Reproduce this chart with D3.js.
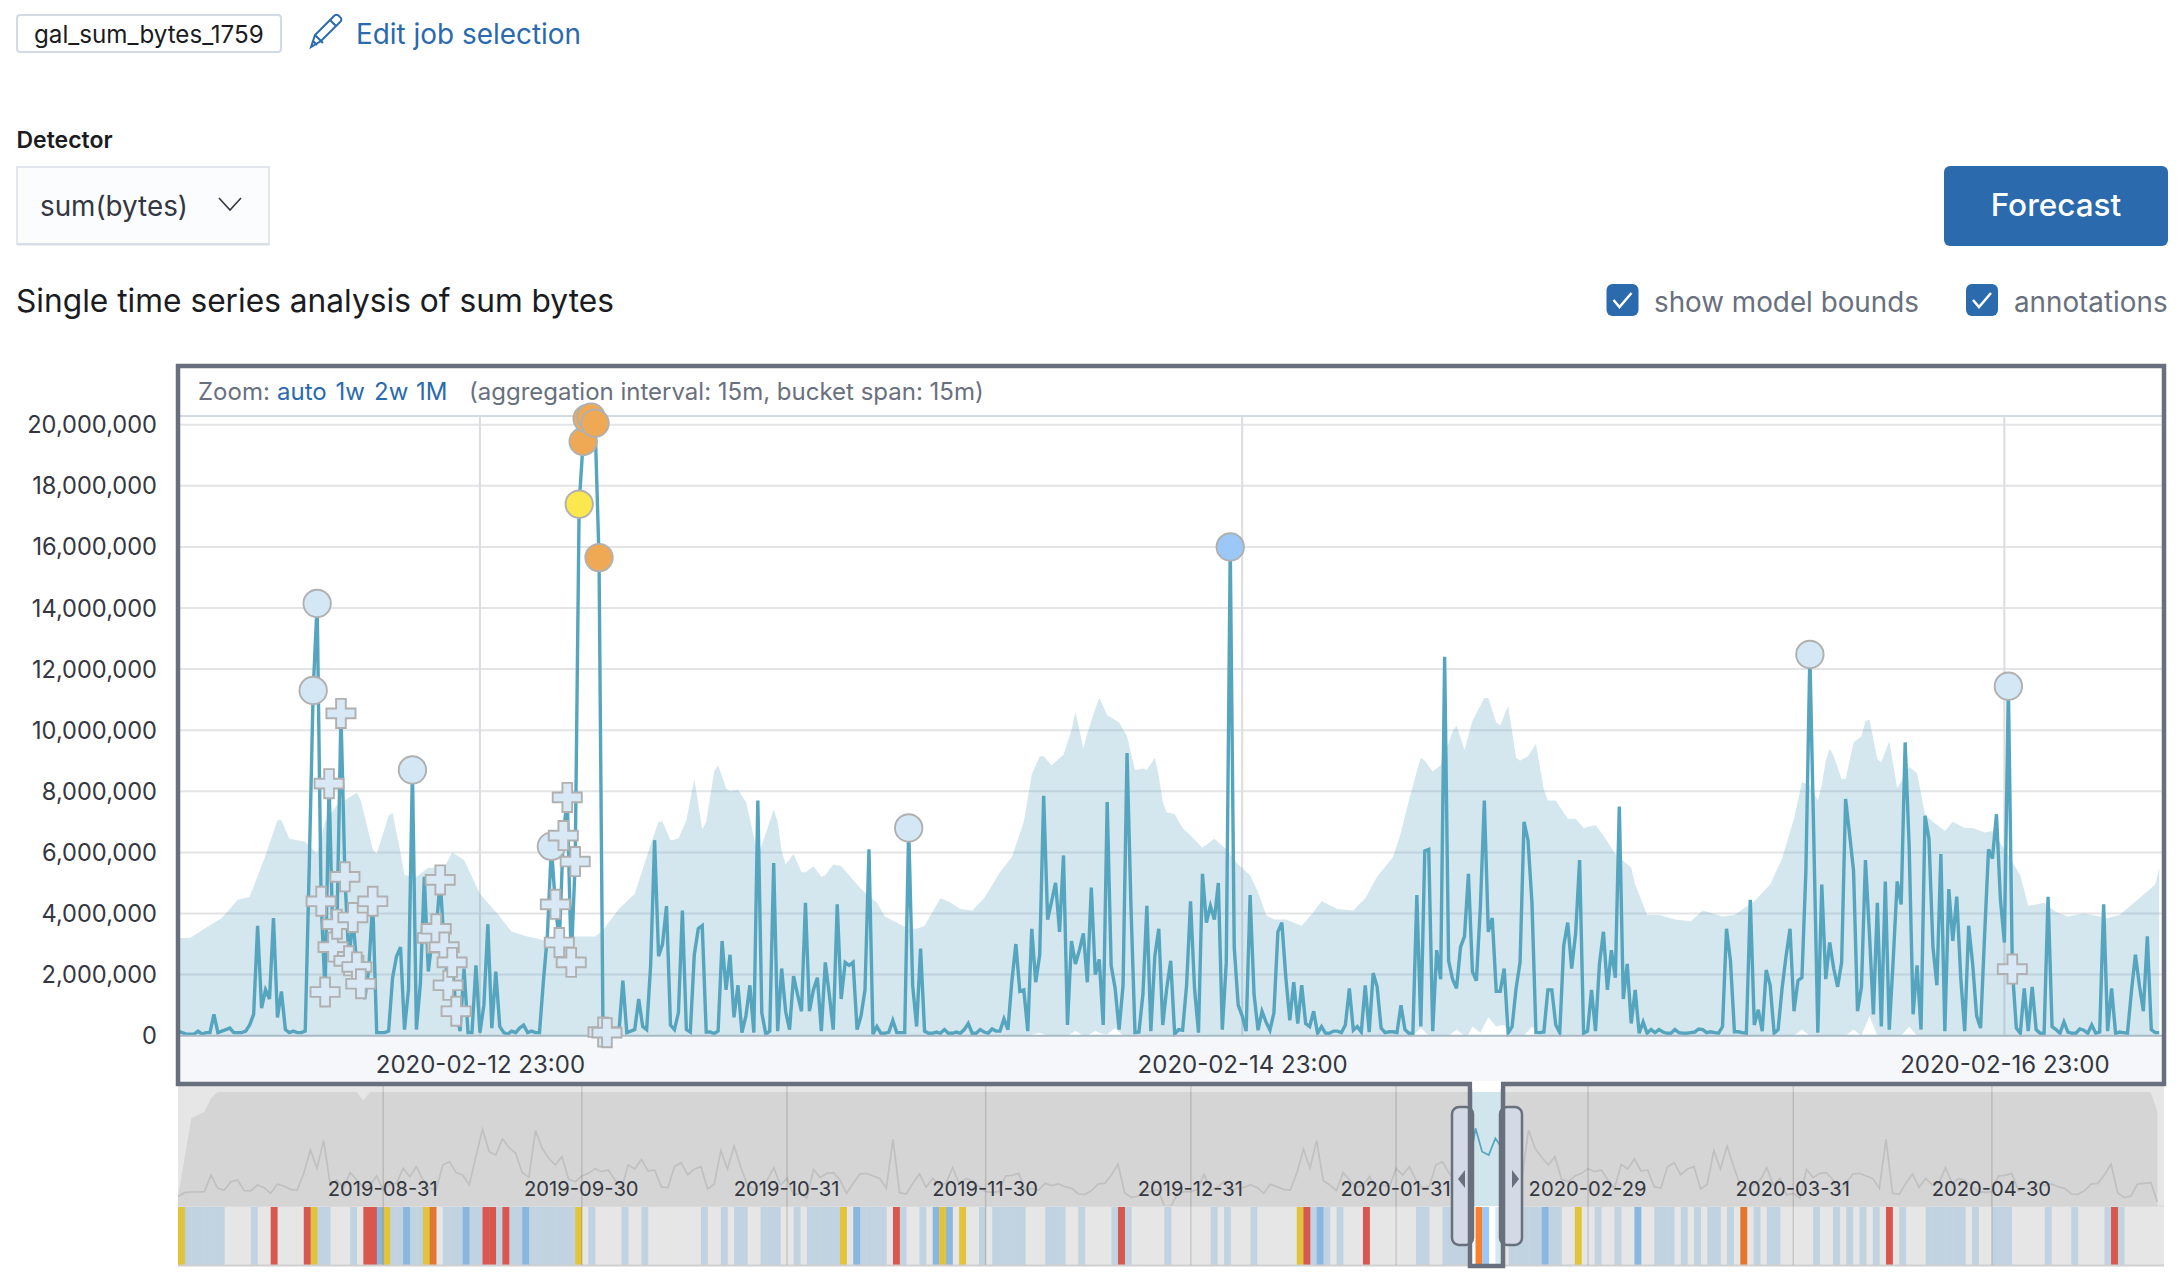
<!DOCTYPE html>
<html><head><meta charset="utf-8">
<script src="https://cdn.jsdelivr.net/npm/d3@7"></script>
<style>
html,body{margin:0;padding:0;background:#fff}
svg{display:block;font-family:Inter,"Noto Sans",sans-serif}
.grid line{stroke:#e3e4e6;stroke-width:2}
</style></head><body><svg id="c" width="2182" height="1282"></svg>
<script>
// ---------- data: bucket values in millions of bytes, 15 minute buckets ----------
const mainValues = [
.15,.1,.05,.05,.05,.15,.05,.1,.1,.7,
.1,.15,.2,.25,.1,.1,.1,.15,.35,.7,
3.6,.9,1.5,1.2,3.85,.6,1.45,.2,.1,.15,
.1,.1,.15,5.5,11.3,14.15,4.4,1.43,8.25,2.9,
3.65,10.55,5.2,2.45,3.87,2.25,1.7,1.2,2.2,4.4,
.1,.1,.1,.15,1.9,2.6,2.9,.2,1.5,8.7,
.2,1.7,5.2,2.1,3.2,3.5,5.1,2.9,1.65,2.4,
.8,.15,2.2,.1,.1,2.3,.1,1,3.65,.25,
2.1,.3,.1,.05,.15,.1,.25,.35,.1,.15,
.1,.1,1.8,3.3,6.2,4.3,3.05,6.55,7.8,2.4,
5.7,17.4,19.45,20.2,20.25,20.05,15.65,.12,.1,.1,
.2,.1,1.8,.1,.15,.2,1.2,.3,.2,2.3,
6.4,2.6,3,4.24,.35,.2,.75,4.1,.2,.12,
2.65,3.5,3.6,.12,.12,.07,.15,3.1,1.5,2.65,
.6,1.65,.1,.65,1.65,.1,7.7,.75,.05,.15,
5.65,.15,2.2,.8,.2,1.95,1.35,.8,4.35,.8,
1.5,1.9,.15,2.4,1.35,.2,4.3,1.2,2.4,2.3,
2.4,.2,.65,1.5,6.1,.05,.3,.08,.08,.12,
.5,.1,.1,.1,6.8,1.65,.3,2.85,.15,.08,
.08,.12,.08,.2,.08,.08,.12,.08,.2,.4,
.08,.08,.2,.12,.08,.22,.15,.15,.55,.2,
1.8,3,1.45,1.5,.15,3.5,1.75,2.65,7.85,3.8,
4.4,5,3.4,5.9,.35,3.1,2.35,2.8,3.35,1.75,
4.85,2,2.5,.35,7.65,2.3,1.55,.2,1.65,9.25,
4.2,.1,.12,1.35,4.25,.15,2.6,3.5,.35,1.55,
2.45,.05,.2,.18,1.65,4.4,1.55,.1,5.3,3.7,
4.25,3.8,5,.2,2.4,16,2.9,1,.65,.15,
4.6,1.35,.18,.8,.45,.18,.75,3.4,3.7,1.9,
.5,1.75,.4,1.65,.4,.3,.8,.08,.3,.08,
.08,.15,.15,.1,.35,1.55,.18,.3,.12,1.65,
.12,2.05,1.6,.25,.1,.13,.13,.1,1,.2,
.08,.08,4.6,.3,6.05,6.1,.15,2.8,1.85,12.4,
2.45,1.85,1.55,2.9,3.25,5.3,2.1,1.8,4.2,7.7,
3.4,3.85,1.45,1.45,2.2,.08,.3,1.55,2.4,7,
6.4,4.35,.1,.1,.12,1.5,1.5,.35,.1,2.95,
3.7,2.2,3.35,5.75,.08,.15,1.5,.15,2.35,3.4,
1.5,2.8,1.9,7.5,1.2,2.35,.4,1.5,.08,.45,
.08,.2,.1,.2,.12,.08,.08,.2,.1,.08,
.08,.1,.12,.22,.2,.1,.13,.1,.08,.3,
3.5,2.45,.13,.13,.1,.08,4.45,.35,.85,.15,
2.15,1.65,.08,.2,1.55,2.6,3.5,.8,1.8,1.9,
5.4,12.48,6.4,.1,4.95,1.85,3.05,2.2,1.6,2.4,
7.75,6.6,5.4,.8,1.6,5.75,3.35,.7,4.35,.3,
5.05,.2,2.5,5.05,4.3,9.6,6.25,.7,2.3,.2,
7.2,6.45,2.9,1.65,5.95,.15,4.8,3.1,4.55,1.9,
.15,3.6,2.35,.65,.25,3.25,6.1,5.8,7.25,4.45,
3.05,11.44,2.18,.25,.08,1.55,.15,1.6,.2,.08,
.08,4.55,.3,.2,.08,.45,.12,.08,.08,.22,
.18,.08,.35,.08,.12,4.3,.15,1.55,.08,.12,
.1,.08,1.45,2.65,1.65,.8,3.25,.2,.1,.1];

// model upper bound, as vertices: bucket index, value
const upperIndex = [0,3,6,11,15,18,22,25,26,28,32,35,37,40,45,46,49,50,53,54,56,57,60,63,67,69,72,76,79,81,84,88,93,99,105,107,111,115,119,121,122,124,126,128,130,132,133,135,136,138,139,141,143,144,146,147,150,151,152,153,155,157,158,160,162,163,165,167,172,176,178,184,186,188,192,194,197,200,203,207,210,213,215,217,218,220,223,225,226,228,229,231,232,234,237,239,241,243,244,246,247,248,249,250,251,253,255,258,261,264,267,270,272,274,276,279,283,286,288,292,296,299,302,306,308,310,312,313,314,316,318,321,322,324,326,329,330,332,333,335,337,338,340,342,344,345,347,350,352,354,357,359,362,366,367,370,373,377,381,384,389,392,397,401,404,407,409,411,413,414,415,416,417,419,420,422,424,425,426,428,429,431,433,436,438,440,442,445,447,450,452,455,457,461,464,466,470,473,476,480,486,489,494,498,499];
const upperValue = [3.2,3.2,3.45,3.85,4.45,4.55,5.9,7.05,7.05,6.45,6.35,5.95,7,7.55,7.95,7.7,6.1,5.95,7.2,7.3,6,5.25,5.2,5.5,5.5,6,5.75,4.65,4.2,3.9,3.4,3.25,3.1,3.25,3.25,3.45,4.15,4.65,6.25,7,7,6.4,6.45,7.05,8.4,6.75,7,8.65,8.85,8.1,8,8.05,7.65,7.1,5.9,6.25,7.4,7,6.05,5.6,5.95,5.35,5.35,5.55,5.2,5.25,5.6,5.55,4.8,4.35,3.9,3.5,3.5,3.6,4.5,4.4,4.15,4.1,4.5,5.35,5.85,7,8.55,9.15,9.15,8.85,9.2,10,10.6,9.4,9.9,10.7,11.05,10.5,10.25,9.8,8.7,8.75,8.7,9.1,8.5,7.65,7.3,7.3,7.25,6.8,6.55,6.15,6.45,6.1,5.6,5.25,4.7,3.95,3.8,3.8,3.6,4.05,4.4,4.15,4.1,4.5,5.2,5.85,6.65,7.7,8.65,9.1,9,8.65,8.85,9.95,10.15,9.35,10.3,11.05,11.05,10.25,10.15,10.8,9.1,9,9.15,9.55,8.05,7.7,7.7,7.1,7.1,6.8,6.9,6.55,5.95,5.5,4.95,3.95,3.95,3.8,3.75,4.1,3.9,3.95,4.4,4.95,5.8,7.1,8.3,8.2,7.7,8.2,9,9.4,9.15,8.4,8.4,9.6,9.8,10.3,10.35,9.05,8.95,9.65,8.1,8.8,8.6,7.25,7,6.7,7,6.8,6.8,6.65,6.7,5.9,5.25,4.25,4.35,4.05,3.9,4,3.85,3.95,4.5,4.95,5.5];
// model lower bound humps
const lowerIndex = [214,217,219,224,226,228,229,231,233,234,236,238,311,313,315,320,322,324,325,326,328,330,332,334,336,339,341,343,407,409,411,420,422,424,426,428,434,436,438];
const lowerValue = [0,.1,0,0,.15,0,0,.15,.05,.05,.25,0,0,.25,0,0,.2,0,.05,.3,.1,.6,.3,.35,0,0,.3,0,0,.2,0,0,.2,0,.65,0,0,.3,0];

const lowCircles = [34,35,59,94,184,411,461];
const minorCircles = [265];
const warningCircles = [101];
const majorCircles = [102,103,104,105,106];
const multiBucket = [36,37,38,39,40,41,42,43,44,45,46,49,64,65,66,67,68,69,70,95,96,97,98,99,100,107,108,462];

const yTicks = [0,2,4,6,8,10,12,14,16,18,20];
const mainTickDates = ["2020-02-12T23:00:00Z","2020-02-14T23:00:00Z","2020-02-16T23:00:00Z"];
const contextTickDates = ["2019-08-31","2019-09-30","2019-10-31","2019-11-30","2019-12-31","2020-01-31","2020-02-29","2020-03-31","2020-04-30"];

// overview, one value per day
const contextValues = [
2.8,4,4.2,4.2,4.3,9.3,5.3,4.8,7.3,7.8,4.6,4.5,6.3,5.5,3.8,6.5,6,5,4.8,9.8,
16.8,11.3,19.6,6.3,7.8,5.3,10,7.8,5.5,6.3,9,4.8,6.5,6.8,11.3,8.8,11.8,7.8,5.3,4.8,
12.3,13.3,10,9.3,6.3,14.8,23,16.3,15.3,20.1,17.6,15.8,10,8.6,22.6,17.3,14.3,12.3,14.8,8.1,
7.3,9,9.8,11.2,10.3,10.8,7.8,5.3,12.3,11.1,14,10.5,10.8,5.8,5.4,11.8,13,9.3,11.1,11.8,
5.1,6.5,16.6,11.1,18,11.8,6.3,4.8,6.3,7.8,11.5,6.3,8.3,3.3,3.8,2.3,11,8.5,9.8,10,
7.8,3.8,6.8,9.6,9.8,9,8.3,5.3,20,4,3.6,6.8,9.6,5.6,8.3,6.3,6.8,11.5,6.8,8.3,
7.6,5.8,4.3,4.1,4.3,9,9.2,9.8,4.6,5.3,4.8,6.8,6.1,6.6,5.8,5.3,3.6,3.5,4.6,6.6,
6.8,9.3,12.6,4,2.5,3,4.3,4.3,5,0,0,3.6,4.3,4.3,5,9.5,4.8,5.6,7.3,4.6,
5.3,5.6,6.3,5.6,3.8,6.5,5.8,5,4.8,9.8,17,11.3,19.6,7.6,6.3,4.6,10,7.8,5.6,6.3,
8.8,4.8,6.3,5.8,11.3,9.3,11.8,7.8,5.3,5.8,12.3,13.3,9.8,8,5.5,12,23.3,16.3,15.3,20.3,
17.3,15.8,10,8,22.8,17.3,14.6,12.3,14.8,8,7.3,9,9.8,11.2,10.3,10.8,7.8,5.3,12.5,11.1,
14.1,10.5,10.8,5.8,5.4,11.8,13,9.3,11.1,11.8,5.1,6.5,16.6,11.1,18,11.8,6.3,4.8,6.3,7.8,
11.5,6.3,8.3,3.3,3.8,2.3,11,8.5,9.8,10,7.8,3.8,6.8,9.6,9.8,9,8.3,5.3,20,3.8,
3.5,6.8,9.6,5.6,8.3,6.3,6.8,11.5,6.8,8.3,7.6,5.8,4.3,4.1,4.3,9,9.2,9.8,4.6,5.3,
4.8,6.8,6.1,6.6,5.8,5.3,3.6,3.5,4.6,6.6,6.8,9.3,12.6,4,2.5,3,6.6,6.8,7,1.3];
const contextUpperDay = [0,2,3,4,5,6,27,28,29,298,299];
const contextUpperValue = [2.8,26.3,27.3,28.3,32.3,34.2,34.2,31.6,34.2,34.2,28.3];

// swimlane, day positions by severity
const lowDays = [1,2,3,4,5,6,11,21,22,26,32,33,35,36,40,41,42,44,45,48,50,51,53,54,55,56,57,58,59,62,67,70,79,82,84,85,88,89,90,93,95,96,97,98,99,103,104,105,106,109,112,121,123,124,125,126,127,131,132,133,136,141,143,149,156,158,162,171,173,175,187,188,191,192,193,194,201,202,203,204,205,207,208,214,217,223,224,225,227,229,231,232,234,238,240,241,247,250,252,254,256,260,264,265,266,267,268,269,271,274,275,276,282,286,291,293];
const minorDays = [30,34,43,52,102,114,116,172,206,220];
const warningDays = [0,20,31,37,60,100,115,118,169,211];
const majorDays = [38,236];
const criticalDays = [14,19,28,29,46,47,49,108,142,170,179,258,292];
const selectedMajor = [196], selectedMinor = [197], selectedLow = [199];

// ---------- layout ----------
const svg = d3.select("#c");
const ink = "#343741", subdued = "#69707d", link = "#2a6aad", border = "#69707d";
const L = 178.2, R = 2163.2, Y0 = 1035.7, Y20 = 424.7;
const T = v => new Date(Date.UTC(2020,1,12,4,0) + v*9e5);
const x = d3.scaleUtc().domain([T(0),T(500)]).range([L,R]);
const y = d3.scaleLinear().domain([0,20]).range([Y0,Y20]);
const text = (s,px,py,size,fill,o={}) => svg.append("text").attr("x",px).attr("y",py).attr("dy",".36em")
  .attr("font-size",size).attr("fill",fill).attr("font-weight",o.w||400).attr("text-anchor",o.a||"start").text(s);

// header controls
svg.append("rect").attr("x",17).attr("y",15).attr("width",264).attr("height",37).attr("rx",3).attr("fill","#fff").attr("stroke","#d3dae6").attr("stroke-width",2);
text("gal_sum_bytes_1759",34,34,24.2,"#1a1c21");
svg.append("path").attr("d","M311 47l4-12 19-19a3 3 0 0 1 5 0l1 1a3 3 0 0 1 0 5l-19 19zM315 35l8 8M330 20l6 6M313 41l4 4")
  .attr("fill","none").attr("stroke",link).attr("stroke-width",2);
text("Edit job selection",356,34,27.9,link);
text("Detector",16.5,140,23,"#1a1c21",{w:600});
svg.append("rect").attr("x",17).attr("y",167).attr("width",252).attr("height",77).attr("fill","#fbfcfd").attr("stroke","#e3e6ee").attr("stroke-width",2);
svg.append("rect").attr("x",17).attr("y",243).attr("width",252).attr("height",2.5).attr("fill","#d9dde8");
text("sum(bytes)",40,206,27.8,ink);
svg.append("path").attr("d","M219 198l11 12 11-12").attr("fill","none").attr("stroke",ink).attr("stroke-width",1.6);
text("Single time series analysis of sum bytes",16,301,31.7,"#1a1c21");
svg.append("rect").attr("x",1944).attr("y",166).attr("width",224).attr("height",80).attr("rx",6).attr("fill",link);
text("Forecast",2056,205,31.5,"#fff",{a:"middle",w:500});
[1606.5,1966].forEach(cx=>{
  svg.append("rect").attr("x",cx).attr("y",284).attr("width",32).attr("height",32).attr("rx",6).attr("fill",link);
  svg.append("path").attr("d",`M${cx+7} ${300}l6 7 12-14`).attr("fill","none").attr("stroke","#fff").attr("stroke-width",2.5);
});
text("show model bounds",1654,302,27.8,subdued);
text("annotations",2014,302,27.8,subdued);

// main panel
svg.append("rect").attr("x",L).attr("y",368).attr("width",R-L).attr("height",714).attr("fill","#fff");
svg.append("rect").attr("x",L).attr("y",Y0).attr("width",R-L).attr("height",48).attr("fill","#f5f7fa");
svg.append("line").attr("x1",L).attr("x2",R).attr("y1",416).attr("y2",416).attr("stroke","#d3dae6").attr("stroke-width",2);

const plot = svg.append("defs").append("clipPath").attr("id","plotClip").append("rect").attr("x",180).attr("y",417).attr("width",1982).attr("height",Y0-417+1);

const grid = svg.append("g").attr("class","grid");
grid.selectAll(".h").data(yTicks.slice(1)).join("line").attr("x1",180).attr("x2",2162).attr("y1",d=>y(d)).attr("y2",d=>y(d));
grid.selectAll(".v").data(mainTickDates).join("line").attr("x1",d=>x(new Date(d))).attr("x2",d=>x(new Date(d))).attr("y1",417).attr("y2",Y0).style("stroke","#dcdde0");

const gPlot = svg.append("g").attr("clip-path","url(#plotClip)");
const upperPts = upperIndex.map((d,i)=>[d,upperValue[i]]);
gPlot.append("path").attr("d",d3.area().x(d=>x(T(d[0]))).y0(y(0)).y1(d=>y(d[1])).curve(d3.curveLinear)(upperPts)).attr("fill","rgba(84,160,190,.25)");
const lowerPts = lowerIndex.map((d,i)=>[d,lowerValue[i]]);
gPlot.append("path").attr("d",d3.area().x(d=>x(T(d[0]))).y0(y(0)).y1(d=>y(d[1]))(lowerPts)).attr("fill","#fff");
svg.append("line").attr("x1",180).attr("x2",2162).attr("y1",Y0).attr("y2",Y0).attr("stroke","#a7bac6").attr("stroke-width",2);
gPlot.append("path").attr("d",d3.line().x((d,i)=>x(T(i))).y(d=>y(d))(mainValues)).attr("fill","none").attr("stroke","#56a5bf").attr("stroke-width",3.4).attr("stroke-linejoin","miter");

// markers in time order
const marks = [];
[[lowCircles,"#d4e7f5",0],[minorCircles,"#9bc8f7",0],[warningCircles,"#fbe84f",0],[majorCircles,"#efa955",0],[multiBucket,"#d8e8f5",1]]
  .forEach(([a,f,c])=>a.forEach(i=>marks.push({i,f,c})));
marks.sort((a,b)=>a.i-b.i);
svg.selectAll(".mark").data(marks).join("path").attr("class","mark")
  .attr("d",d=>d3.symbol(d.c?d3.symbolCross:d3.symbolCircle,d.c?470:590)())
  .attr("transform",d=>`translate(${x(T(d.i))},${y(mainValues[d.i])})`)
  .attr("fill",d=>d.f).attr("stroke","#b0b0b0").attr("stroke-width",1.9);

// axes
const yAxis = d3.axisLeft(y).tickValues(yTicks).tickSize(0).tickPadding(0).tickFormat(d=>d3.format(",")(d*1e6));
const gy = svg.append("g").attr("transform","translate(157,-0.5)").call(yAxis);
gy.select(".domain").remove();
gy.selectAll("text").attr("font-size",23.6).attr("font-family","Inter").attr("fill",ink).attr("dy",".36em");
const xAxis = d3.axisBottom(x).tickValues(mainTickDates.map(d=>new Date(d))).tickSize(0).tickPadding(0).tickFormat(d3.utcFormat("%Y-%m-%d %H:%M"));
const gx = svg.append("g").attr("transform","translate(0,1064)").call(xAxis);
gx.select(".domain").remove();
gx.selectAll("text").attr("font-size",24).attr("font-family","Inter").attr("fill",ink).attr("dy",".36em");

// zoom line
text("Zoom:",198,391,24,subdued);
text("auto",277,391,24,link);
text("1w",335.5,391,24,link);
text("2w",374,391,24,link);
text("1M",416,391,24,link);
text("(aggregation interval: 15m, bucket span: 15m)",469,391,24,subdued);

// overview
const CT=1086, CB=1206, SB=1265;
const cDay = k => new Date(Date.UTC(2019,6,31)+k*864e5);
const cx = d3.scaleUtc().domain([cDay(0),cDay(300)]).range([178,2164]);
const cy = d3.scaleLinear().domain([0,34.2]).range([CB,1092]);
const cg = svg.append("g");
cg.append("rect").attr("x",178).attr("y",CT).attr("width",1986).attr("height",CB-CT).attr("fill","#e6e6e6");
cg.append("path").attr("d",d3.area().x(d=>cx(cDay(d[0]))).y0(CB).y1(d=>cy(d[1]))(contextUpperDay.map((d,i)=>[d,contextUpperValue[i]]))).attr("fill","#d5d5d5");
const cLine = d3.line().x((d,i)=>cx(cDay(i))).y(d=>cy(d));
cg.append("path").attr("d",cLine(contextValues)).attr("fill","none").attr("stroke","#c0c0c0").attr("stroke-width",1.7);

// swimlane
const sw = svg.append("g");
sw.append("rect").attr("x",178).attr("y",CB).attr("width",1986).attr("height",SB-CB).attr("fill","#e6e6e6");
const cells = (a,f,g=sw)=>g.selectAll(null).data(a).join("rect").attr("x",d=>cx(cDay(d))).attr("width",d=>cx(cDay(d+1))-cx(cDay(d))+.3).attr("y",CB+1).attr("height",SB-CB-1).attr("fill",f);
cells(lowDays,"#c1d3e0"); cells(minorDays,"#8ab7e0"); cells(warningDays,"#e2c33c"); cells(majorDays,"#e0772d"); cells(criticalDays,"#d8574e");
sw.append("line").attr("x1",178).attr("x2",2164).attr("y1",SB+.5).attr("y2",SB+.5).attr("stroke","#d0d0d0").attr("stroke-width",2);
sw.append("line").attr("x1",178).attr("x2",2164).attr("y1",CB).attr("y2",CB).attr("stroke","#d2d2d2").attr("stroke-width",1);

const cTicks = contextTickDates.map(d=>new Date(d+"T00:00:00Z"));
svg.append("g").selectAll("line").data(cTicks).join("line").attr("x1",d=>cx(d)).attr("x2",d=>cx(d)).attr("y1",CT).attr("y2",SB).attr("stroke","rgba(0,0,0,.13)").attr("stroke-width",1.5);
const cAxis = d3.axisBottom(cx).tickValues(cTicks).tickSize(0).tickPadding(0).tickFormat(d3.utcFormat("%Y-%m-%d"));
const gc = svg.append("g").attr("transform","translate(-1,1189)").call(cAxis);
gc.select(".domain").remove();
gc.selectAll("text").attr("font-size",20.2).attr("font-family","Inter").attr("fill",ink).attr("dy",".36em");

// selection
const SL=1470, SR=1503;
svg.append("defs").append("clipPath").attr("id","sel").append("rect").attr("x",SL).attr("y",CT).attr("width",SR-SL).attr("height",SB-CT);
const sel = svg.append("g").attr("clip-path","url(#sel)");
sel.append("rect").attr("x",SL).attr("y",CT-4).attr("width",SR-SL).attr("height",SB-CT+4).attr("fill","#fff");
sel.append("rect").attr("x",SL).attr("y",1092).attr("width",SR-SL).attr("height",CB-1092).attr("fill","#d1e6ec");
sel.append("path").attr("d",cLine(contextValues)).attr("fill","none").attr("stroke","#56a5bf").attr("stroke-width",1.7);
cells(selectedMajor,"#f9812e",sel); cells(selectedMinor,"#9bc8f7",sel); cells(selectedLow,"#d6e8f5",sel);

// handles
[[1452,SL+3],[SR-3,1522]].forEach(([a,b],n)=>{
  svg.append("rect").attr("x",a).attr("y",1107).attr("width",b-a).attr("height",138).attr("rx",7).attr("fill","#d3dae6").attr("stroke",border).attr("stroke-width",2.5);
});
svg.append("path").attr("d","M1465 1170l-7 9 7 9z").attr("fill",border);
svg.append("path").attr("d","M1512 1170l7 9-7 9z").attr("fill",border);

// panel border with notch around the selection
svg.append("path").attr("d",`M${SL} 1084 H178 V366 H2164 V1084 H${SR} V1266 H${SL} Z`).attr("fill","none").attr("stroke",border).attr("stroke-width",4.5);
svg.append("rect").attr("x",SL+2.3).attr("y",1081).attr("width",SR-SL-4.6).attr("height",8).attr("fill","#fff");
</script></body></html>
